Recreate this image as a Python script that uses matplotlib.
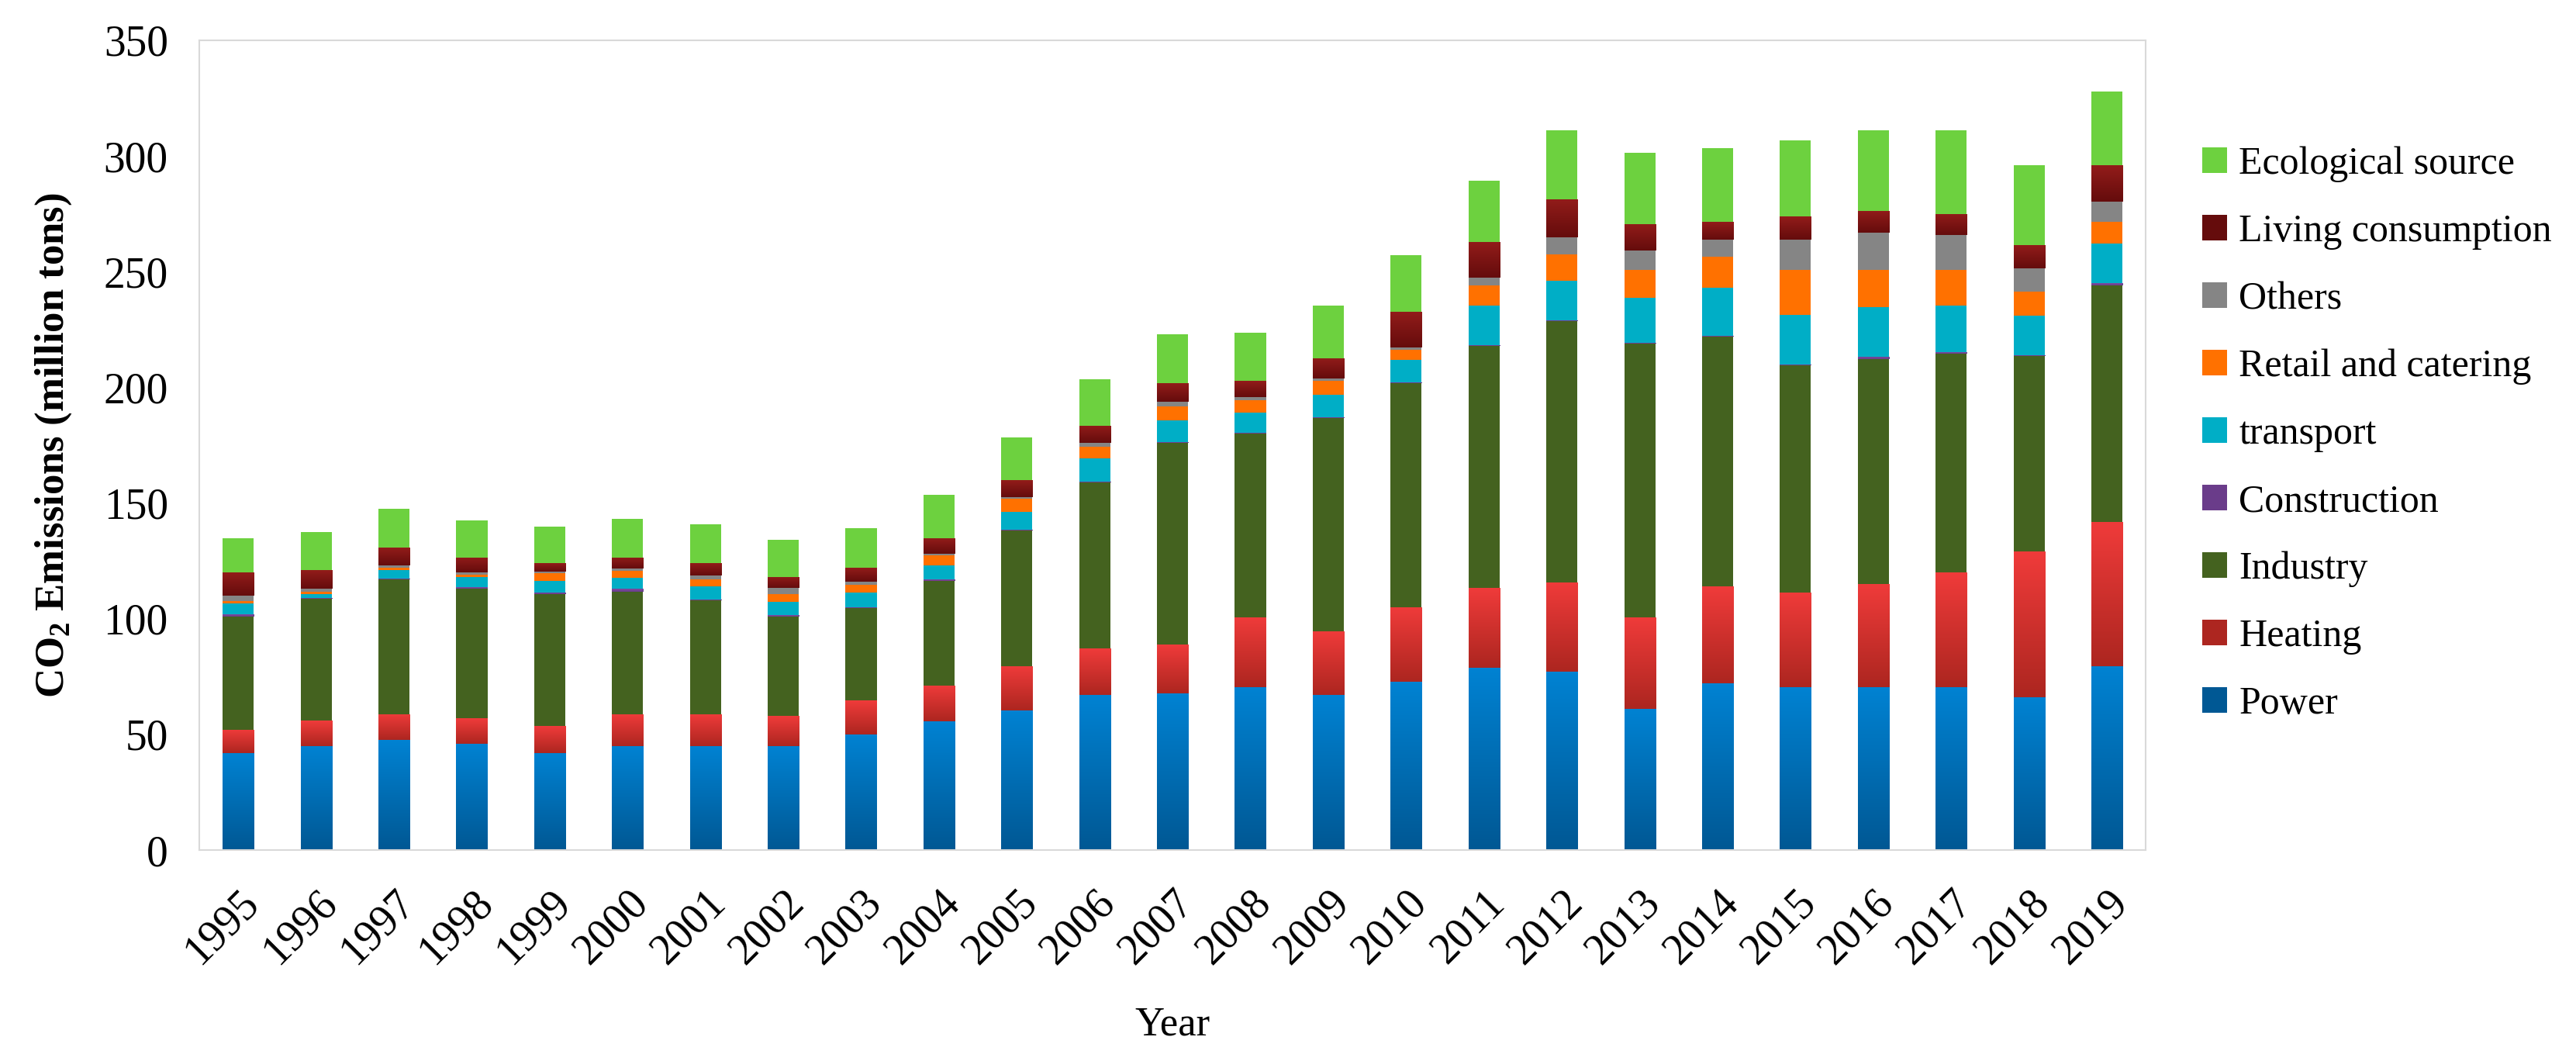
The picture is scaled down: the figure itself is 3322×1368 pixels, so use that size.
import matplotlib
matplotlib.use("Agg")
import matplotlib.pyplot as plt
import numpy as np
from matplotlib.colors import LinearSegmentedColormap
from matplotlib.patches import Patch

plt.rcParams['font.family'] = ['Liberation Serif', 'DejaVu Serif']
plt.rcParams['mathtext.fontset'] = 'custom'
plt.rcParams['mathtext.rm'] = 'Liberation Serif'
plt.rcParams['mathtext.bf'] = 'Liberation Serif:bold'

years = [str(y) for y in range(1995, 2020)]

power = [41.8, 45, 47.5, 46, 42, 45, 45, 45, 50, 55.5, 60.2, 67, 67.8, 70.4, 67,
         72.7, 78.8, 77, 61, 72, 70.4, 70.4, 70.4, 66.1, 79.6]
heating = [10.2, 11, 11.3, 11, 11.7, 13.8, 13.8, 13, 14.7, 15.7, 19.4, 20.1, 21, 30.2,
           27.7, 32.2, 34.5, 38.7, 39.6, 41.9, 41, 44.5, 49.6, 62.9, 62.2]
industry = [49, 52.6, 58.2, 56, 56.9, 53, 49, 43, 39.8, 45.3, 58.6, 71.9, 87.1, 79.4,
            92, 96.9, 104.7, 112.9, 118.2, 108.1, 98.2, 97.3, 94.7, 84.5, 102.2]
construction = [1.0, 0.4, 0.5, 0.6, 0.8, 1.1, 0.6, 0.6, 0.5, 0.5, 0.4, 0.4, 0.4, 0.4,
                0.4, 0.4, 0.4, 0.4, 0.4, 0.4, 0.4, 1.1, 0.6, 0.5, 0.9]
transport = [4.5, 1.6, 3.5, 4.4, 5.1, 4.9, 5.5, 5.7, 6.2, 5.9, 7.7, 9.8, 9.4, 8.8, 9.6,
             9.6, 17.1, 17.1, 19.4, 20.5, 21.2, 21.4, 20.2, 17, 17.3]
retail = [1, 1, 1, 1, 3.3, 3, 3.1, 3.3, 3.5, 4.4, 5.5, 5.3, 6.1, 5.1, 6.2, 4.5, 8.5,
          11.5, 12, 13.6, 19.4, 15.9, 15.1, 10.4, 9.4]
others = [2.5, 1.4, 1, 1, 0.6, 0.8, 1.8, 2.7, 1.3, 0.9, 0.9, 1.4, 2.1, 1.6, 0.8, 1, 3.3,
          7.3, 8.4, 7.5, 13.4, 16.1, 15.1, 10.2, 8.6]
living = [10, 8, 7.6, 6.5, 3.5, 4.9, 5.1, 4.7, 6, 6.5, 7.3, 7.4, 7.9, 6.8, 9, 15.4, 15.7,
          16.5, 11.4, 7.6, 10, 9.6, 9.2, 9.8, 15.7]
ecological = [14.7, 16.3, 16.9, 15.9, 15.9, 16.8, 16.9, 16, 17, 18.8, 18.4, 20.2, 21.1,
              21, 22.8, 24.6, 26.2, 29.6, 31, 31.9, 32.7, 34.7, 36.1, 34.5, 32.1]

names = ["Power", "Heating", "Industry", "Construction", "transport",
         "Retail and catering", "Others", "Living consumption", "Ecological source"]
series = [power, heating, industry, construction, transport, retail, others, living, ecological]
# (top colour, bottom colour) - a few series have a vertical gradient
colors = [("#0082d2", "#005894"), ("#ef3b3a", "#ad2620"), ("#44621f", "#44621f"),
          ("#7e4ca0", "#6a3c8a"), ("#00aec6", "#00aec6"), ("#ff7100", "#ff7100"),
          ("#858585", "#858585"), ("#921c1a", "#650c0c"), ("#6dd13f", "#6dd13f")]

fig = plt.figure(figsize=(33.22, 13.68), dpi=100)
ax = fig.add_axes([0.0774, 0.1988, 0.7556, 0.7632])

x = np.arange(len(years))
w = 0.4
bottom = np.zeros(len(years))
grad = np.linspace(1, 0, 64).reshape(-1, 1)
for vals, (ctop, cbot), name in zip(series, colors, names):
    vals = np.array(vals)
    if ctop == cbot:
        ax.bar(x, vals, w, bottom=bottom, color=ctop, zorder=2)
    else:
        cmap = LinearSegmentedColormap.from_list(name, [cbot, ctop])
        bars = ax.bar(x, vals, w, bottom=bottom, color="none", zorder=2)
        for b in bars:
            x0, y0 = b.get_x(), b.get_y()
            im = ax.imshow(grad, extent=[x0, x0 + b.get_width(), y0, y0 + b.get_height()],
                           aspect="auto", cmap=cmap, vmin=0, vmax=1, zorder=2,
                           interpolation="bilinear", origin="upper")
            im.set_clip_path(b)
    bottom += vals

ax.set_xlim(-0.5, len(years) - 0.5)
ax.set_ylim(0, 350)
ax.set_yticks(range(0, 351, 50))
ax.set_xticks(x)
ax.set_xticklabels(years, rotation=45, ha="right", rotation_mode="anchor")
ax.tick_params(axis="both", length=0, labelsize=40)
ax.tick_params(axis="y", pad=29)
ax.tick_params(axis="x", pad=30)
for s in ax.spines.values():
    s.set_color("#d9d9d9")
    s.set_linewidth(1.5)

ax.set_ylabel(r"CO$_\mathbf{2}$ Emissions (million tons)", fontsize=38, fontweight="bold")
ax.yaxis.set_label_coords(-0.0645, 0.5)
ax.set_xlabel("Year", fontsize=38, labelpad=32)

handles = [Patch(facecolor=c[0] if c[0] == c[1] else c[1], label=n) for n, c in zip(names, colors)]
fig.legend(handles[::-1], names[::-1], loc="upper left", bbox_to_anchor=(0.8414, 0.895),
           frameon=False, fontsize=36, handlelength=0.64, handleheight=0.62,
           handletextpad=0.3, labelspacing=0.81)

fig.savefig("out.png", dpi=100)
